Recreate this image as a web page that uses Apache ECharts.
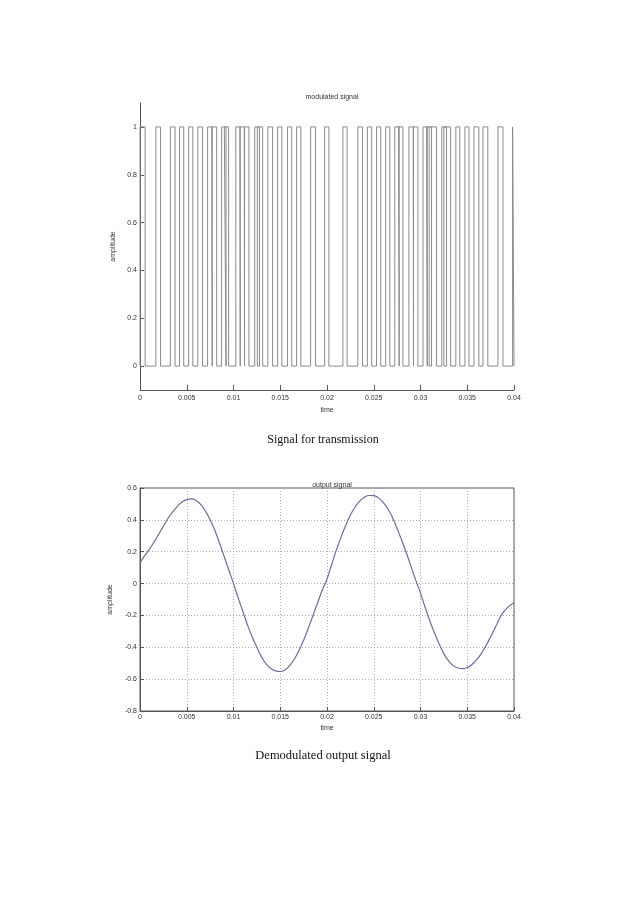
<!DOCTYPE html>
<html>
<head>
<meta charset="utf-8">
<script src="https://cdn.jsdelivr.net/npm/echarts@6/dist/echarts.min.js"></script>
<style>
html,body{margin:0;padding:0;background:#fff;}
#chart{width:638px;height:902px;}
</style>
</head>
<body>
<div id="chart"></div>
<script>
// ---- Data ----
// Top chart: modulated signal pulses (seconds), level 0 -> 1
const pulseStart = [0.00000,0.00170,0.00325,0.00422,0.00520,0.00618,0.00723,0.00768,0.00873,0.00902,0.01025,0.01068,0.01115,0.01227,0.01255,0.01367,0.01472,0.01578,0.01675,0.01825,0.01975,
                    0.02170,0.02330,0.02432,0.02530,0.02628,0.02725,0.02765,0.02876,0.02922,0.03027,0.03065,0.03093,0.03228,0.03250,0.03378,0.03475,0.03572,0.03668,0.03828,0.03985];
const pulseEnd   = [0.00055,0.00220,0.00375,0.00468,0.00565,0.00668,0.00772,0.00820,0.00920,0.00948,0.01072,0.01118,0.01165,0.01278,0.01312,0.01418,0.01517,0.01623,0.01720,0.01878,0.02020,
                    0.02215,0.02380,0.02478,0.02575,0.02672,0.02772,0.02812,0.02925,0.02972,0.03072,0.03118,0.03172,0.03279,0.03322,0.03420,0.03518,0.03624,0.03720,0.03882,0.04000];
const pulseLevel = 1;

// Bottom chart: demodulated output (sampled every 0.0005 s)
const outTime = [0,0.0005,0.001,0.0015,0.002,0.0025,0.003,0.0035,0.004,0.0045,0.005,0.0055,0.006,0.0065,0.007,0.0075,0.008,0.0085,0.009,0.0095,
  0.01,0.0105,0.011,0.0115,0.012,0.0125,0.013,0.0135,0.014,0.0145,0.015,0.0155,0.016,0.0165,0.017,0.0175,0.018,0.0185,0.019,0.0195,
  0.02,0.0205,0.021,0.0215,0.022,0.0225,0.023,0.0235,0.024,0.0245,0.025,0.0255,0.026,0.0265,0.027,0.0275,0.028,0.0285,0.029,0.0295,
  0.03,0.0305,0.031,0.0315,0.032,0.0325,0.033,0.0335,0.034,0.0345,0.035,0.0355,0.036,0.0365,0.037,0.0375,0.038,0.0385,0.039,0.0395,0.04];
const outAmp = [0.13,0.175,0.215,0.26,0.31,0.36,0.41,0.45,0.485,0.512,0.527,0.532,0.522,0.495,0.455,0.40,0.335,0.255,0.17,0.085,
  0.00,-0.09,-0.175,-0.26,-0.335,-0.40,-0.46,-0.505,-0.533,-0.548,-0.552,-0.542,-0.515,-0.475,-0.42,-0.355,-0.28,-0.20,-0.12,-0.04,
  0.03,0.12,0.21,0.29,0.365,0.43,0.48,0.518,0.542,0.553,0.552,0.538,0.51,0.47,0.415,0.345,0.27,0.19,0.105,0.02,
  -0.06,-0.15,-0.235,-0.31,-0.38,-0.44,-0.485,-0.515,-0.53,-0.534,-0.527,-0.508,-0.478,-0.44,-0.39,-0.335,-0.275,-0.215,-0.17,-0.14,-0.12];

const xTicks = [0,0.005,0.01,0.015,0.02,0.025,0.03,0.035,0.04];
const topYTicks = [0,0.2,0.4,0.6,0.8,1];
const botYTicks = [-0.8,-0.6,-0.4,-0.2,0,0.2,0.4,0.6];

const titles = ['modulated signal','output signal'];
const captions = ['Signal for transmission','Demodulated output signal'];

// ---- Build series data ----
const pulseData = [[0,0]];
for (let i = 0; i < pulseStart.length; i++) {
  pulseData.push([pulseStart[i],0],[pulseStart[i],pulseLevel],[pulseEnd[i],pulseLevel],[pulseEnd[i],0]);
}
pulseData.push([0.04,0]);
const outData = outTime.map((t,i)=>[t,outAmp[i]]);

const FONT = "'Liberation Sans Narrow','Liberation Sans',sans-serif";
const fmtX = v => v===0 ? '0' : String(+v.toFixed(3));
const fmtY = v => v===0 ? '0' : String(+v.toFixed(1));
const lblStyle = {fontFamily: FONT, fontSize: 7, color: '#333'};

const chart = echarts.init(document.getElementById('chart'), null, {renderer:'canvas'});
chart.setOption({
  backgroundColor: '#fff',
  animation: false,
  title: [
    {text: titles[0], left: 327, top: 89, textAlign: 'center', textStyle: {fontFamily: FONT, fontSize: 7, fontWeight: 'normal', color: '#333'}},
    {text: titles[1], left: 327, top: 477, textAlign: 'center', textStyle: {fontFamily: FONT, fontSize: 7, fontWeight: 'normal', color: '#333'}},
    {text: captions[0], left: 318, top: 429, textAlign: 'center', textStyle: {fontFamily: "'Liberation Serif','DejaVu Serif',serif", fontSize: 12, fontWeight: 'normal', color: '#111'}},
    {text: captions[1], left: 318, top: 744, textAlign: 'center', textStyle: {fontFamily: "'Liberation Serif','DejaVu Serif',serif", fontSize: 12.5, fontWeight: 'normal', color: '#111'}}
  ],
  grid: [
    {left: 140, top: 103, width: 374, height: 287, show: false},
    {left: 140, top: 488, width: 374, height: 223, show: true, borderColor: '#555', borderWidth: 1, backgroundColor: 'transparent'}
  ],
  xAxis: [
    {gridIndex: 0, type: 'value', min: 0, max: 0.04, interval: 0.005,
     name: 'time', nameLocation: 'middle', nameGap: 17, nameTextStyle: lblStyle,
     axisLine: {show: true, onZero: false, lineStyle: {color: '#555', width: 1}},
     axisTick: {show: true, inside: true, length: 5, lineStyle: {color: '#555'}},
     axisLabel: {formatter: fmtX, margin: 5, ...lblStyle},
     splitLine: {show: false}},
    {gridIndex: 1, type: 'value', min: 0, max: 0.04, interval: 0.005,
     name: 'time', nameLocation: 'middle', nameGap: 14, nameTextStyle: lblStyle,
     axisLine: {show: true, onZero: false, lineStyle: {color: '#555', width: 1}},
     axisTick: {show: true, inside: true, length: 4, lineStyle: {color: '#555'}},
     axisLabel: {formatter: fmtX, margin: 3, ...lblStyle},
     splitLine: {show: true, lineStyle: {color: '#aaa', type: [1,2], width: 1}}}
  ],
  yAxis: [
    {gridIndex: 0, type: 'value', min: -0.1, max: 1.1,
     name: 'amplitude', nameLocation: 'middle', nameGap: 20, nameTextStyle: lblStyle,
     axisLine: {show: true, onZero: false, lineStyle: {color: '#555', width: 1}},
     axisTick: {show: true, inside: true, length: 4, customValues: topYTicks, lineStyle: {color: '#555'}},
     axisLabel: {formatter: fmtY, margin: 3, customValues: topYTicks, ...lblStyle},
     splitLine: {show: false}},
    {gridIndex: 1, type: 'value', min: -0.8, max: 0.6, interval: 0.2,
     name: 'amplitude', nameLocation: 'middle', nameGap: 18, nameTextStyle: lblStyle,
     axisLine: {show: true, onZero: false, lineStyle: {color: '#555', width: 1}},
     axisTick: {show: true, inside: true, length: 4, lineStyle: {color: '#555'}},
     axisLabel: {formatter: fmtY, margin: 3, ...lblStyle},
     splitLine: {show: true, lineStyle: {color: '#aaa', type: [1,2], width: 1}}}
  ],
  series: [
    {type: 'line', xAxisIndex: 0, yAxisIndex: 0, data: pulseData, showSymbol: false, silent: true,
     lineStyle: {color: '#8a8a8a', width: 1}},
    {type: 'line', xAxisIndex: 1, yAxisIndex: 1, data: outData, showSymbol: false, smooth: 0.5, silent: true,
     lineStyle: {color: '#6a6e9e', width: 1.2}}
  ]
});
</script>
</body>
</html>
